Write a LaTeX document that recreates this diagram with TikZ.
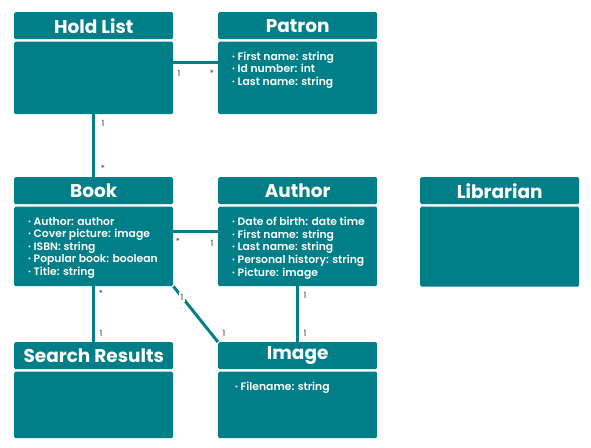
\documentclass[tikz,border=0pt]{standalone}
\usepackage{fontspec}
\setmainfont{Poppins}
\newfontfamily\semib{Poppins SemiBold}
\usetikzlibrary{backgrounds}
\definecolor{umlteal}{RGB}{0,127,137}
\definecolor{multgray}{RGB}{55,55,55}
\begin{document}
\begin{tikzpicture}[x=1pt,y=-1pt,
  hdr/.style={fill=umlteal, rounded corners=1.5pt, minimum width=159pt, minimum height=27pt, anchor=north west, inner sep=0pt, text=white, font=\bfseries\fontsize{18.5}{18.5}\selectfont},
  bdy/.style={fill=umlteal, rounded corners=1.5pt, minimum width=159pt, anchor=north west, inner sep=0pt},
  attr/.style={anchor=north west, inner sep=0pt, text=white, align=left, font=\semib\fontsize{10.8}{12.6}\selectfont},
  link/.style={draw=umlteal, line width=3pt},
  mult/.style={font=\fontsize{8.5}{8.5}\selectfont, text=multgray, inner sep=0pt}]
\useasboundingbox (0,0) rectangle (591,447);
% classes
\node[hdr] (holdT) at (14,12) {Hold List};
\node[bdy, minimum height=72.5pt] (holdB) at (14,41.5) {};
\node[hdr] (patT) at (218,12) {Patron};
\node[bdy, minimum height=72.5pt] (patB) at (218,41.5) {};
\node[attr] (patA) at (232,51.5) {· First name: string\\· Id number: int\\· Last name: string};

\node[hdr] (bookT) at (14,177) {Book};
\node[bdy, minimum height=79.5pt] (bookB) at (14,206.5) {};
\node[attr] (bookA) at (28,217) {· Author: author\\· Cover picture: image\\· ISBN: string\\· Popular book: boolean\\· Title: string};

\node[hdr] (authT) at (218,177) {Author};
\node[bdy, minimum height=79.5pt] (authB) at (218,206.5) {};
\node[attr] (authA) at (232,217) {· Date of birth: date time\\· First name: string\\· Last name: string\\· Personal history: string\\· Picture: image};

\node[hdr] (libT) at (420,177) {Librarian};
\node[bdy, minimum height=80pt] (libB) at (420,206.5) {};

\node[hdr] (srchT) at (14,342) {Search Results};
\node[bdy, minimum height=66.5pt] (srchB) at (14,371.5) {};

\node[hdr] (imgT) at (218,342) {Image};
\node[bdy, minimum height=66.5pt] (imgB) at (218,371.5) {};
\node[attr] (imgA) at (235,382) {· Filename: string};

% connectors
\begin{scope}[on background layer]
\draw[link] ([yshift=-21pt]holdB.north east) -- ([yshift=-21pt]patB.north west);
\draw[link] (holdB.south) -- (bookT.north);
\draw[link] ([yshift=-25pt]bookB.north east) -- ([yshift=-25pt]authB.north west);
\draw[link] (bookB.south) -- (srchT.north);
\draw[link] (authB.south) -- (imgT.north);
\draw[link] (bookB.south east) -- (imgT.north west)
  node[mult, pos=0.19, fill=white, inner sep=2pt] (d1) {1};
\end{scope}

% multiplicities
\node[mult] (m1) at (179,73) {1};
\node[mult] (m2) at (212,73) {*};
\node[mult] (m3) at (103,123) {1};
\node[mult] (m4) at (103,168) {*};
\node[mult] (m5) at (178,241) {*};
\node[mult] (m6) at (212,243) {1};
\node[mult] (m7) at (101,293) {*};
\node[mult] (m8) at (101,333) {1};
\node[mult] (m9) at (224,333) {1};
\node[mult] (m10) at (305,295) {1};
\node[mult] (m11) at (305,333) {1};
\end{tikzpicture}
\end{document}
